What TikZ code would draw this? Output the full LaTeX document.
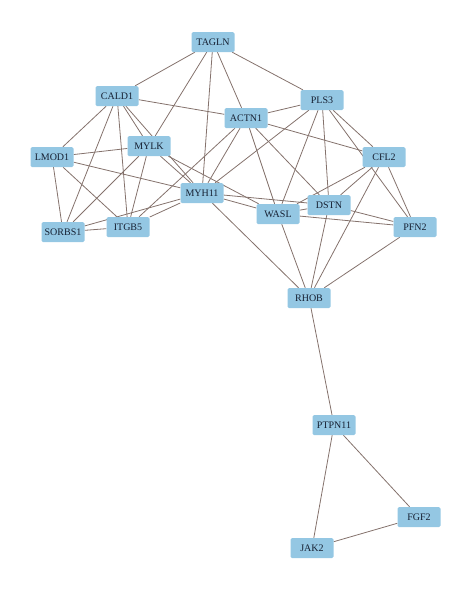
\documentclass[tikz,border=0pt]{standalone}
\usepackage{fontspec}
\setmainfont{Liberation Serif}
\usepackage{xcolor}
\usetikzlibrary{backgrounds}
\definecolor{genefill}{RGB}{148,199,227}
\definecolor{genetext}{RGB}{22,32,50}
\definecolor{linkcol}{RGB}{132,114,108}

\begin{document}
\begin{tikzpicture}[x=1pt,y=-1pt,
  gene/.style={fill=genefill,rounded corners=1.5pt,minimum width=43pt,minimum height=20pt,inner sep=1pt,text=genetext,font=\fontsize{10}{11}\selectfont},
  link/.style={draw=linkcol,line width=0.8pt}]
\useasboundingbox (0,0) rectangle (474,590);

% upper cluster
\node[gene] (TAGLN) at (213,42) {TAGLN};
\node[gene] (CALD1) at (117,96) {CALD1};
\node[gene] (MYLK) at (149,146) {MYLK};
\node[gene] (LMOD1) at (52,157) {LMOD1};
\node[gene] (MYH11) at (202,193) {MYH11};
\node[gene] (SORBS1) at (63,232) {SORBS1};
\node[gene] (ITGB5) at (128,227) {ITGB5};
\node[gene] (ACTN1) at (246,118) {ACTN1};
\node[gene] (PLS3) at (322,100) {PLS3};
\node[gene] (CFL2) at (384,157) {CFL2};
\node[gene] (DSTN) at (329,205) {DSTN};
\node[gene] (WASL) at (278,214) {WASL};
\node[gene] (PFN2) at (415,227) {PFN2};
\node[gene] (RHOB) at (309,298) {RHOB};
% lower triangle
\node[gene] (PTPN11) at (334,425) {PTPN11};
\node[gene] (FGF2) at (419,517) {FGF2};
\node[gene] (JAK2) at (312,548) {JAK2};

\begin{scope}[on background layer]
\foreach \a/\b in {TAGLN/CALD1,TAGLN/MYLK,TAGLN/MYH11,TAGLN/ACTN1,TAGLN/PLS3,
  CALD1/ACTN1,CALD1/LMOD1,CALD1/SORBS1,CALD1/ITGB5,CALD1/MYLK,CALD1/MYH11,
  LMOD1/MYLK,LMOD1/MYH11,LMOD1/SORBS1,LMOD1/ITGB5,
  MYLK/SORBS1,MYLK/ITGB5,MYLK/MYH11,MYLK/WASL,
  SORBS1/ITGB5,SORBS1/MYH11,ITGB5/MYH11,ITGB5/ACTN1,
  MYH11/ACTN1,MYH11/PLS3,MYH11/WASL,MYH11/DSTN,MYH11/RHOB,
  ACTN1/PLS3,ACTN1/CFL2,ACTN1/WASL,ACTN1/DSTN,
  PLS3/WASL,PLS3/DSTN,PLS3/CFL2,PLS3/PFN2,
  CFL2/WASL,CFL2/DSTN,CFL2/PFN2,CFL2/RHOB,
  WASL/DSTN,WASL/PFN2,WASL/RHOB,DSTN/PFN2,DSTN/RHOB,PFN2/RHOB,
  RHOB/PTPN11,PTPN11/JAK2,PTPN11/FGF2,JAK2/FGF2}
  \draw[link] (\a) -- (\b);
\end{scope}
\end{tikzpicture}
\end{document}
